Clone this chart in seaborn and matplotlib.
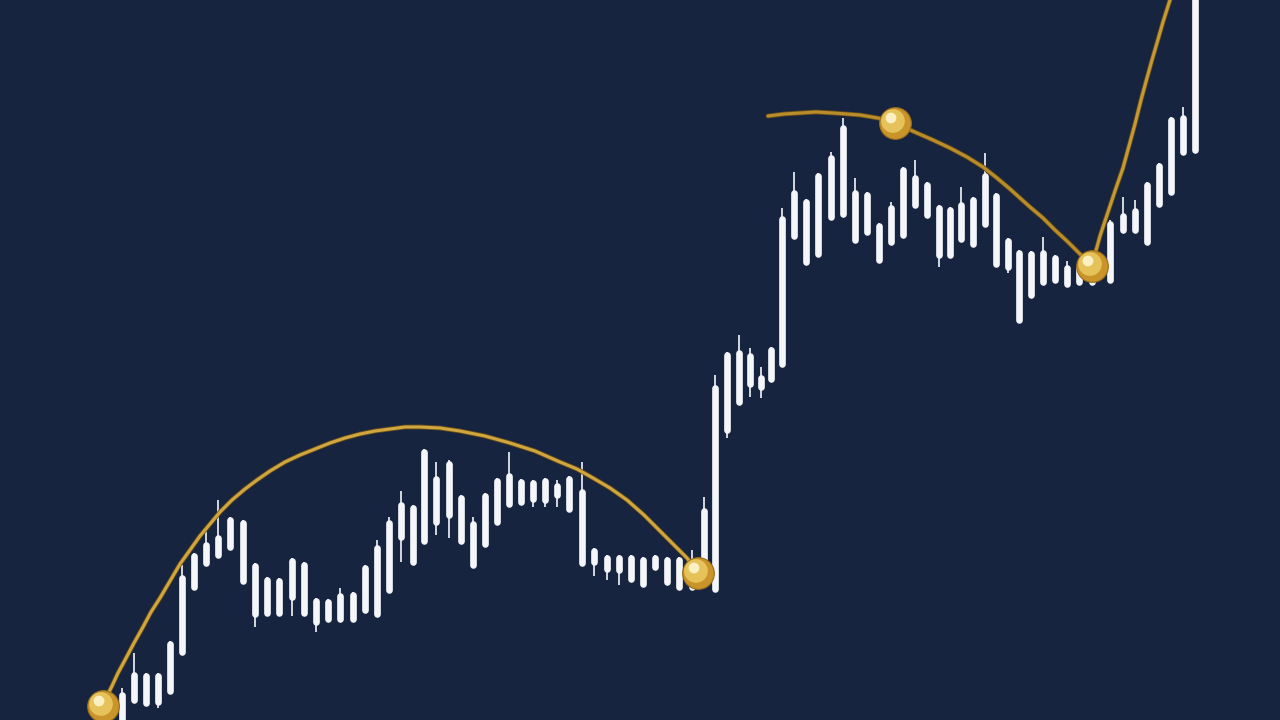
# candles.py - stylised candlestick chart with golden arcs

import pandas as pd
import seaborn as sns
import matplotlib.pyplot as plt

sns.set_theme(style="dark")

# --- Data (y grows downward like screen rows) ---
candle_x = [122, 134, 146, 158, 170, 182, 194, 206, 218, 230, 243, 255, 267, 279, 292, 304,
            316, 328, 340, 353, 365, 377, 389, 401, 413, 424, 436, 449, 461, 473, 485, 497,
            509, 521, 533, 545, 557, 569, 582, 594, 607, 619, 631, 643, 655, 667, 679, 692,
            704, 715, 727, 739, 750, 761, 771, 782, 794, 806, 818, 831, 843, 855, 867, 879,
            891, 903, 915, 927, 939, 950, 961, 973, 985, 996, 1008, 1019, 1031, 1043, 1055,
            1067, 1079, 1092, 1110, 1123, 1135, 1147, 1159, 1171, 1183, 1195]
wick_top = [688, 653, 673, 673, 641, 565, 553, 530, 500, 517, 520, 563, 577, 578, 558, 562,
            598, 599, 588, 592, 565, 540, 517, 491, 505, 449, 462, 460, 495, 517, 493, 478,
            452, 479, 480, 478, 480, 476, 462, 548, 555, 555, 555, 557, 555, 557, 557, 550,
            497, 375, 352, 335, 348, 367, 347, 208, 172, 199, 173, 152, 118, 178, 192, 223,
            202, 167, 160, 182, 205, 207, 187, 197, 153, 193, 238, 250, 251, 237, 255,
            261, 265, 265, 220, 197, 200, 182, 163, 117, 107, -10]
body_top = [692, 672, 673, 673, 641, 575, 553, 542, 535, 517, 520, 563, 577, 578, 558, 562,
            598, 599, 593, 592, 565, 545, 520, 502, 505, 449, 476, 461, 495, 521, 493, 478,
            473, 479, 480, 478, 483, 476, 489, 548, 555, 555, 555, 557, 555, 557, 557, 560,
            508, 385, 352, 350, 353, 375, 347, 216, 190, 199, 173, 155, 125, 190, 192, 223,
            205, 167, 175, 182, 205, 207, 202, 197, 173, 193, 238, 250, 251, 250, 255,
            265, 265, 265, 221, 213, 208, 182, 163, 117, 115, -10]
body_bottom = [725, 703, 706, 705, 694, 655, 590, 566, 558, 550, 584, 617, 616, 616, 600, 616,
               625, 622, 622, 622, 613, 617, 593, 540, 565, 544, 525, 518, 544, 568, 547, 525,
               507, 505, 502, 503, 498, 512, 566, 565, 572, 573, 582, 587, 570, 585, 590, 590,
               587, 592, 433, 405, 387, 390, 382, 367, 239, 265, 257, 220, 217, 243, 235, 263,
               245, 238, 208, 218, 258, 258, 242, 247, 227, 267, 270, 323, 298, 285, 283,
               287, 285, 285, 283, 233, 233, 245, 207, 195, 155, 153]
wick_bottom = [725, 703, 706, 708, 694, 655, 590, 566, 558, 550, 584, 627, 616, 616, 616, 616,
               632, 622, 622, 622, 613, 617, 593, 562, 565, 544, 535, 538, 544, 568, 547, 525,
               507, 505, 507, 507, 507, 512, 566, 576, 580, 585, 582, 587, 570, 585, 590, 590,
               587, 592, 438, 405, 397, 398, 382, 367, 239, 265, 257, 220, 217, 243, 235, 263,
               245, 238, 208, 218, 267, 258, 242, 247, 227, 267, 273, 323, 298, 285, 283,
               287, 285, 285, 283, 233, 233, 245, 207, 195, 155, 153]

# golden arcs
arc1_x = [103, 107, 112, 118, 125, 134, 143, 151, 160, 170, 180, 190, 200, 210, 220, 232,
          245, 257, 270, 285, 300, 315, 330, 345, 360, 375, 390, 405, 420, 440, 460, 485,
          510, 535, 560, 577, 593, 610, 627, 644, 660, 674, 687, 698]
arc1_y = [706, 696, 686, 673, 660, 643, 627, 612, 598, 581, 564, 550, 536, 524, 512, 500,
          489, 480, 471, 462, 455, 449, 443, 438, 434, 431, 429, 427, 427, 428, 431, 436,
          443, 451, 462, 469, 478, 488, 500, 515, 531, 545, 558, 572]
arc2_x = [768, 784, 800, 816, 833, 847, 860, 872, 883, 895, 906, 917, 933, 950, 967, 983,
          997, 1010, 1020, 1030, 1043, 1055, 1068, 1080, 1092]
arc2_y = [116, 114, 113, 112, 113, 114, 115, 117, 119, 123, 128, 133, 140, 148, 157, 167,
          178, 189, 198, 207, 218, 230, 242, 254, 265]
arc3_x = [1092, 1094, 1097, 1100, 1105, 1110, 1116, 1123, 1129, 1135, 1141, 1147, 1152,
          1157, 1163, 1170]
arc3_y = [265, 257, 247, 236, 221, 206, 188, 168, 146, 124, 100, 78, 60, 43, 22, 0]

# gold balls where the arcs meet the price
ball_x = [103, 698, 895, 1092]
ball_y = [706, 573, 123, 266]

bg = "#172440"
white = "#f4f6fa"

fig = plt.figure(figsize=(12.8, 7.2), dpi=100)
fig.patch.set_facecolor(bg)
ax = fig.add_axes([0, 0, 1, 1])
ax.set_facecolor(bg)
ax.set_xlim(0, 1280)
ax.set_ylim(720, 0)
ax.axis("off")

# --- Candles ---
cap = 3.3  # round caps add half the body width at each end
body_top_adj = [min(t + cap, (t + b) / 2) for t, b in zip(body_top, body_bottom)]
body_bot_adj = [max(b - cap, (t + b) / 2) for t, b in zip(body_top, body_bottom)]
ax.vlines(candle_x, wick_top, wick_bottom, color=white, linewidth=1.2, zorder=2)
ax.vlines(candle_x, body_top_adj, body_bot_adj, color=white, linewidth=4.8,
          capstyle="round", zorder=3)

# --- Arcs ---
arcs = [(arc1_x, arc1_y, "#cfa640"), (arc2_x, arc2_y, "#b98d2c"), (arc3_x, arc3_y, "#c39a35")]
for xs, ys, col in arcs:
    df = pd.DataFrame({"x": xs, "y": ys})
    sns.lineplot(data=df, x="x", y="y", sort=False, ax=ax, color="#6b4f16",
                 linewidth=3.4, zorder=4, legend=False)
    sns.lineplot(data=df, x="x", y="y", sort=False, ax=ax, color=col,
                 linewidth=2.2, zorder=5, legend=False)
for ln in ax.lines:
    ln.set_solid_joinstyle("round")
    ln.set_solid_capstyle("round")

# --- Balls ---
balls = pd.DataFrame({"x": ball_x, "y": ball_y})
sns.scatterplot(data=balls, x="x", y="y", ax=ax, s=520, color="#c9952a",
                edgecolor="#9a6e1a", linewidth=0.8, zorder=6, legend=False)
sns.scatterplot(data=balls, x=balls["x"] - 2, y=balls["y"] - 2, ax=ax, s=290,
                color="#e6c25a", edgecolor="none", zorder=7, legend=False)
sns.scatterplot(data=balls, x=balls["x"] - 4, y=balls["y"] - 5, ax=ax, s=60,
                color="#fbf0c4", edgecolor="none", zorder=8, legend=False)

ax.set_xlabel("")
ax.set_ylabel("")
fig.savefig("out.png", dpi=100, facecolor=bg)
